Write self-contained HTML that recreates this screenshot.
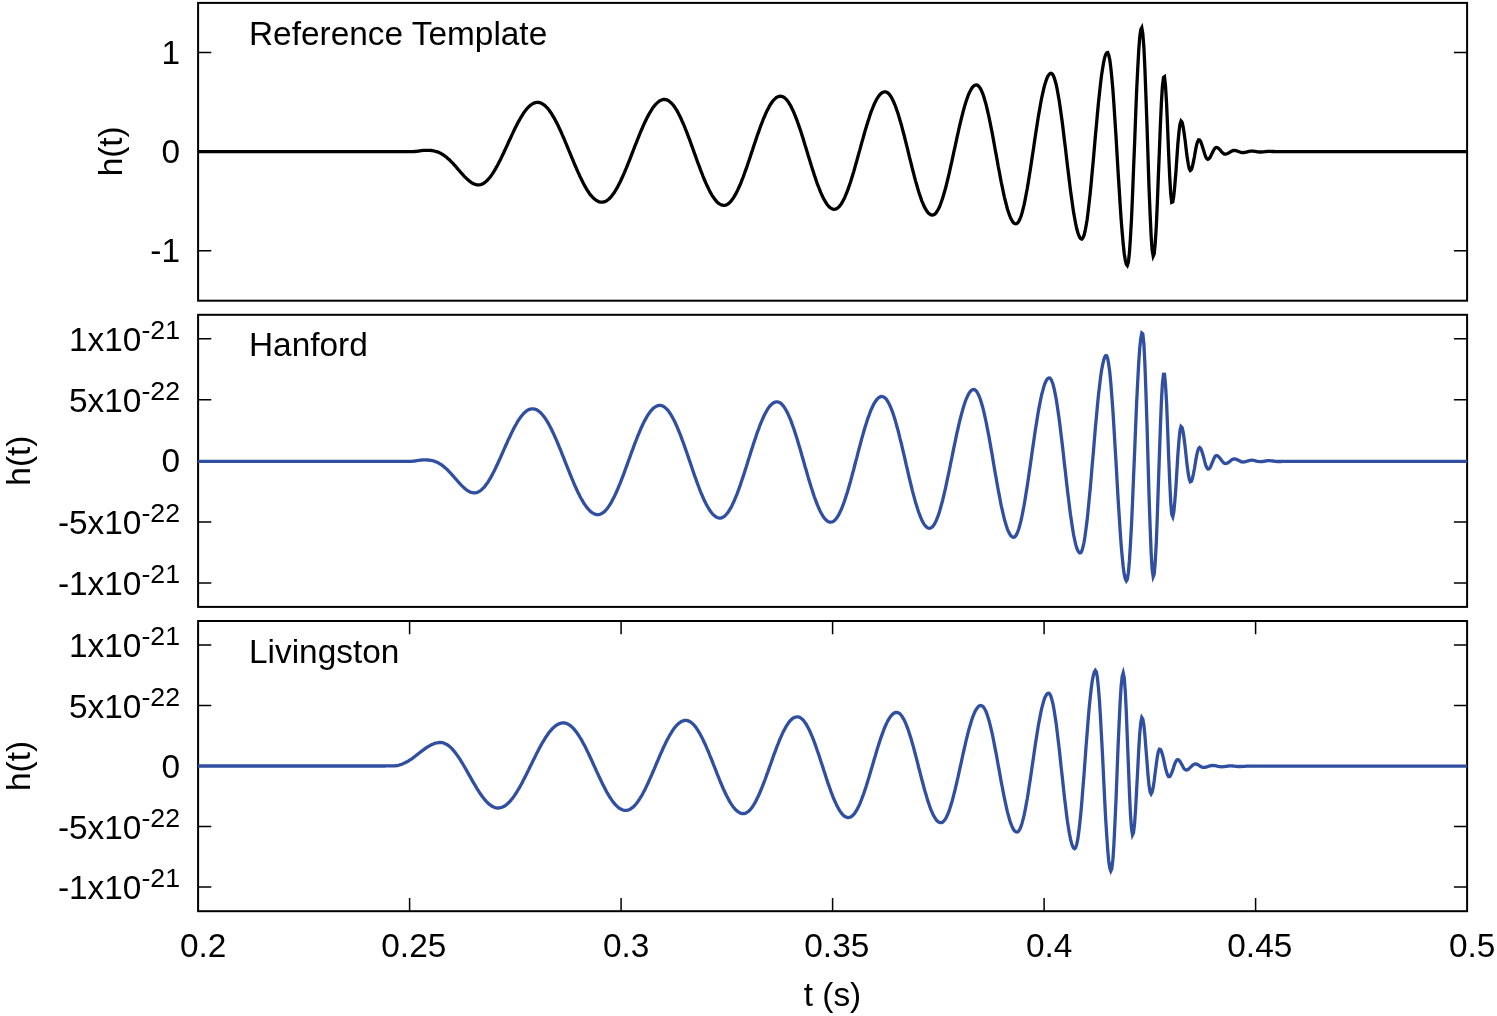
<!DOCTYPE html>
<html lang="en"><head><meta charset="utf-8"><title>h(t) waveforms</title>
<style>html,body{margin:0;padding:0;background:#fff}svg{display:block}text{font-family:"Liberation Sans",Arial,Helvetica,sans-serif;font-size:33.4px;fill:#000}</style></head><body>
<svg width="1497" height="1016" viewBox="0 0 1497 1016">
<rect width="1497" height="1016" fill="#fff"/>
<g stroke="#000" stroke-width="1.5" fill="none">
<path d="M198.1 52.5h13.2M1467.1 52.5h-13.2"/><path d="M198.1 151.6h13.2M1467.1 151.6h-13.2"/><path d="M198.1 250.7h13.2M1467.1 250.7h-13.2"/>
<path d="M198.1 338.7h13.2M1467.1 338.7h-13.2"/><path d="M198.1 399.8h13.2M1467.1 399.8h-13.2"/><path d="M198.1 460.8h13.2M1467.1 460.8h-13.2"/><path d="M198.1 521.9h13.2M1467.1 521.9h-13.2"/><path d="M198.1 582.9h13.2M1467.1 582.9h-13.2"/>
<path d="M198.1 645.1h13.2M1467.1 645.1h-13.2"/><path d="M198.1 705.5h13.2M1467.1 705.5h-13.2"/><path d="M198.1 766.0h13.2M1467.1 766.0h-13.2"/><path d="M198.1 826.5h13.2M1467.1 826.5h-13.2"/><path d="M198.1 887.0h13.2M1467.1 887.0h-13.2"/>
<path d="M409.6 911.2v-13.2M409.6 621.0v13.2"/><path d="M621.1 911.2v-13.2M621.1 621.0v13.2"/><path d="M832.6 911.2v-13.2M832.6 621.0v13.2"/><path d="M1044.1 911.2v-13.2M1044.1 621.0v13.2"/><path d="M1255.6 911.2v-13.2M1255.6 621.0v13.2"/>
</g>
<rect x="198.1" y="2.9" width="1269.0" height="297.8" fill="none" stroke="#000" stroke-width="2"/>
<rect x="198.1" y="314.8" width="1269.0" height="292.1" fill="none" stroke="#000" stroke-width="2"/>
<rect x="198.1" y="621.0" width="1269.0" height="290.2" fill="none" stroke="#000" stroke-width="2"/>
<g fill="none" stroke-width="3.3" stroke-linejoin="miter" stroke-miterlimit="10">
<polyline stroke="#000" points="198.1,151.7 411.7,151.7 412.7,151.6 413.7,151.6 414.8,151.5 415.8,151.4 416.8,151.3 417.9,151.1 418.9,151.0 419.9,150.8 421.0,150.7 422.0,150.6 423.0,150.4 424.1,150.4 425.1,150.3 426.1,150.3 427.2,150.3 428.2,150.3 429.2,150.4 430.3,150.4 431.3,150.5 432.3,150.6 433.4,150.8 434.4,151.0 435.4,151.3 436.5,151.6 437.5,151.9 438.5,152.3 439.5,152.8 440.6,153.3 441.6,153.9 442.6,154.5 443.7,155.1 444.7,155.9 445.7,156.7 446.8,157.5 447.8,158.4 448.8,159.3 449.9,160.3 450.9,161.3 451.9,162.4 453.0,163.4 454.0,164.6 455.0,165.7 456.1,166.9 457.1,168.1 458.1,169.3 459.2,170.5 460.2,171.7 461.2,172.9 462.3,174.0 463.3,175.2 464.3,176.3 465.4,177.4 466.4,178.4 467.4,179.4 468.5,180.3 469.5,181.2 470.5,181.9 471.6,182.7 472.6,183.3 473.6,183.8 474.7,184.2 475.7,184.5 476.7,184.8 477.8,184.9 478.8,184.9 479.8,184.8 480.9,184.5 481.9,184.2 482.9,183.7 484.0,183.1 485.0,182.3 486.0,181.5 487.1,180.5 488.1,179.5 489.1,178.3 490.2,177.0 491.2,175.6 492.2,174.2 493.2,172.6 494.3,170.9 495.3,169.2 496.3,167.4 497.4,165.5 498.4,163.6 499.4,161.5 500.5,159.5 501.5,157.4 502.5,155.2 503.6,153.0 504.6,150.8 505.6,148.6 506.7,146.3 507.7,144.1 508.7,141.8 509.8,139.6 510.8,137.3 511.8,135.1 512.9,132.9 513.9,130.7 514.9,128.6 516.0,126.5 517.0,124.5 518.0,122.5 519.1,120.6 520.1,118.8 521.1,117.0 522.2,115.3 523.2,113.7 524.2,112.2 525.3,110.8 526.3,109.5 527.3,108.3 528.4,107.2 529.4,106.2 530.4,105.3 531.5,104.5 532.5,103.8 533.5,103.3 534.6,102.9 535.6,102.6 536.6,102.4 537.7,102.4 538.7,102.5 539.7,102.7 540.8,103.0 541.8,103.5 542.8,104.1 543.9,104.8 544.9,105.6 545.9,106.6 547.0,107.6 548.0,108.8 549.0,110.1 550.0,111.5 551.1,113.0 552.1,114.6 553.1,116.3 554.2,118.1 555.2,119.9 556.2,121.9 557.3,123.9 558.3,126.0 559.3,128.2 560.4,130.5 561.4,132.7 562.4,135.1 563.5,137.5 564.5,139.9 565.5,142.3 566.6,144.8 567.6,147.3 568.6,149.8 569.7,152.4 570.7,154.9 571.7,157.4 572.8,159.9 573.8,162.4 574.8,164.8 575.9,167.2 576.9,169.6 577.9,171.9 579.0,174.2 580.0,176.5 581.0,178.6 582.1,180.7 583.1,182.8 584.1,184.7 585.2,186.6 586.2,188.4 587.2,190.1 588.3,191.7 589.3,193.2 590.3,194.6 591.4,195.8 592.4,197.0 593.4,198.1 594.5,199.0 595.5,199.8 596.5,200.5 597.6,201.1 598.6,201.6 599.6,201.9 600.7,202.1 601.7,202.2 602.7,202.1 603.8,202.0 604.8,201.6 605.8,201.2 606.8,200.6 607.9,199.8 608.9,199.0 609.9,198.0 611.0,196.8 612.0,195.6 613.0,194.2 614.1,192.8 615.1,191.2 616.1,189.5 617.2,187.7 618.2,185.8 619.2,183.8 620.3,181.7 621.3,179.5 622.3,177.3 623.4,174.9 624.4,172.6 625.4,170.1 626.5,167.6 627.5,165.1 628.5,162.5 629.6,159.9 630.6,157.3 631.6,154.6 632.7,152.0 633.7,149.3 634.7,146.6 635.8,144.0 636.8,141.4 637.8,138.8 638.9,136.2 639.9,133.7 640.9,131.2 642.0,128.8 643.0,126.4 644.0,124.1 645.1,121.8 646.1,119.7 647.1,117.6 648.2,115.6 649.2,113.7 650.2,112.0 651.3,110.3 652.3,108.7 653.3,107.2 654.4,105.9 655.4,104.7 656.4,103.6 657.5,102.6 658.5,101.7 659.5,101.0 660.5,100.5 661.6,100.0 662.6,99.7 663.6,99.5 664.7,99.5 665.7,99.6 666.7,99.9 667.8,100.3 668.8,100.9 669.8,101.7 670.9,102.6 671.9,103.6 672.9,104.8 674.0,106.1 675.0,107.6 676.0,109.2 677.1,110.9 678.1,112.8 679.1,114.7 680.2,116.8 681.2,119.0 682.2,121.3 683.3,123.7 684.3,126.1 685.3,128.7 686.4,131.3 687.4,133.9 688.4,136.7 689.5,139.4 690.5,142.3 691.5,145.1 692.6,148.0 693.6,150.9 694.6,153.7 695.7,156.6 696.7,159.5 697.7,162.3 698.8,165.1 699.8,167.9 700.8,170.7 701.9,173.3 702.9,176.0 703.9,178.5 705.0,181.0 706.0,183.4 707.0,185.6 708.1,187.8 709.1,189.9 710.1,191.9 711.2,193.8 712.2,195.5 713.2,197.1 714.3,198.6 715.3,199.9 716.3,201.1 717.3,202.2 718.4,203.1 719.4,203.8 720.4,204.4 721.5,204.9 722.5,205.2 723.5,205.3 724.6,205.3 725.6,205.1 726.6,204.7 727.7,204.1 728.7,203.4 729.7,202.5 730.8,201.4 731.8,200.1 732.8,198.7 733.9,197.2 734.9,195.4 735.9,193.6 737.0,191.6 738.0,189.4 739.0,187.2 740.1,184.8 741.1,182.3 742.1,179.7 743.2,177.0 744.2,174.2 745.2,171.3 746.3,168.4 747.3,165.4 748.3,162.4 749.4,159.3 750.4,156.2 751.4,153.1 752.5,150.0 753.5,146.8 754.5,143.7 755.6,140.6 756.6,137.6 757.6,134.6 758.7,131.6 759.7,128.7 760.7,125.9 761.8,123.2 762.8,120.5 763.8,118.0 764.9,115.5 765.9,113.2 766.9,111.0 768.0,108.9 769.0,107.0 770.0,105.2 771.1,103.5 772.1,102.0 773.1,100.7 774.1,99.6 775.2,98.6 776.2,97.7 777.2,97.1 778.3,96.6 779.3,96.3 780.3,96.2 781.4,96.3 782.4,96.6 783.4,97.0 784.5,97.7 785.5,98.6 786.5,99.7 787.6,101.0 788.6,102.4 789.6,104.1 790.7,105.9 791.7,107.9 792.7,110.0 793.8,112.3 794.8,114.8 795.8,117.4 796.9,120.1 797.9,123.0 798.9,125.9 800.0,129.0 801.0,132.1 802.0,135.3 803.1,138.6 804.1,141.9 805.1,145.3 806.2,148.7 807.2,152.1 808.2,155.5 809.3,158.9 810.3,162.3 811.3,165.6 812.4,168.9 813.4,172.1 814.4,175.3 815.5,178.4 816.5,181.4 817.5,184.3 818.6,187.0 819.6,189.7 820.6,192.2 821.7,194.6 822.7,196.8 823.7,198.8 824.8,200.7 825.8,202.5 826.8,204.0 827.8,205.3 828.9,206.5 829.9,207.5 830.9,208.2 832.0,208.8 833.0,209.1 834.0,209.3 835.1,209.2 836.1,208.9 837.1,208.4 838.2,207.6 839.2,206.6 840.2,205.3 841.3,203.9 842.3,202.2 843.3,200.3 844.4,198.2 845.4,195.9 846.4,193.4 847.5,190.7 848.5,187.9 849.5,184.9 850.6,181.8 851.6,178.5 852.6,175.2 853.7,171.7 854.7,168.1 855.7,164.5 856.8,160.8 857.8,157.1 858.8,153.4 859.9,149.6 860.9,145.8 861.9,142.1 863.0,138.4 864.0,134.7 865.0,131.1 866.1,127.6 867.1,124.2 868.1,120.9 869.2,117.7 870.2,114.6 871.2,111.7 872.3,109.0 873.3,106.4 874.3,104.0 875.4,101.8 876.4,99.8 877.4,98.0 878.5,96.4 879.5,95.1 880.5,94.0 881.6,93.1 882.6,92.4 883.6,92.0 884.6,91.8 885.7,91.9 886.7,92.2 887.7,92.9 888.8,93.8 889.8,95.0 890.8,96.5 891.9,98.3 892.9,100.3 893.9,102.5 895.0,105.0 896.0,107.8 897.0,110.7 898.1,113.8 899.1,117.2 900.1,120.7 901.2,124.3 902.2,128.1 903.2,132.0 904.3,136.0 905.3,140.1 906.3,144.2 907.4,148.4 908.4,152.6 909.4,156.9 910.5,161.1 911.5,165.2 912.5,169.3 913.6,173.4 914.6,177.3 915.6,181.1 916.7,184.8 917.7,188.4 918.7,191.8 919.8,195.0 920.8,198.0 921.8,200.8 922.9,203.4 923.9,205.8 924.9,207.9 926.0,209.7 927.0,211.3 928.0,212.6 929.1,213.7 930.1,214.4 931.1,214.9 932.2,215.1 933.2,215.0 934.2,214.5 935.3,213.7 936.3,212.5 937.3,211.0 938.4,209.1 939.4,207.0 940.4,204.5 941.4,201.7 942.5,198.6 943.5,195.3 944.5,191.8 945.6,188.0 946.6,184.0 947.6,179.8 948.7,175.4 949.7,171.0 950.7,166.4 951.8,161.7 952.8,156.9 953.8,152.1 954.9,147.3 955.9,142.6 956.9,137.8 958.0,133.1 959.0,128.5 960.0,124.1 961.1,119.7 962.1,115.6 963.1,111.6 964.2,107.8 965.2,104.3 966.2,101.0 967.3,98.0 968.3,95.2 969.3,92.8 970.4,90.7 971.4,88.8 972.4,87.4 973.5,86.2 974.5,85.4 975.5,85.0 976.6,84.9 977.6,85.3 978.6,86.1 979.7,87.4 980.7,89.1 981.7,91.2 982.8,93.8 983.8,96.8 984.8,100.2 985.9,103.9 986.9,108.0 987.9,112.4 989.0,117.1 990.0,122.0 991.0,127.1 992.1,132.5 993.1,137.9 994.1,143.5 995.1,149.2 996.2,154.9 997.2,160.5 998.2,166.2 999.3,171.7 1000.3,177.2 1001.3,182.5 1002.4,187.6 1003.4,192.5 1004.4,197.1 1005.5,201.5 1006.5,205.5 1007.5,209.2 1008.6,212.5 1009.6,215.4 1010.6,217.9 1011.7,220.0 1012.7,221.7 1013.7,222.9 1014.8,223.6 1015.8,223.9 1016.8,223.6 1017.9,222.7 1018.9,221.2 1019.9,219.0 1021.0,216.3 1022.0,213.0 1023.0,209.1 1024.1,204.7 1025.1,199.8 1026.1,194.5 1027.2,188.8 1028.2,182.7 1029.2,176.4 1030.3,169.8 1031.3,163.0 1032.3,156.2 1033.4,149.2 1034.4,142.3 1035.4,135.4 1036.5,128.6 1037.5,122.0 1038.5,115.6 1039.6,109.5 1040.6,103.7 1041.6,98.3 1042.7,93.3 1043.7,88.9 1044.7,84.9 1045.8,81.5 1046.8,78.6 1047.8,76.3 1048.9,74.7 1049.9,73.7 1050.9,73.3 1051.9,73.7 1053.0,75.0 1054.0,77.2 1055.0,80.3 1056.1,84.2 1057.1,89.0 1058.1,94.5 1059.2,100.7 1060.2,107.5 1061.2,114.8 1062.3,122.6 1063.3,130.8 1064.3,139.2 1065.4,147.9 1066.4,156.6 1067.4,165.4 1068.5,174.0 1069.5,182.4 1070.5,190.6 1071.6,198.3 1072.6,205.6 1073.6,212.4 1074.7,218.5 1075.7,223.9 1076.7,228.5 1077.8,232.4 1078.8,235.4 1079.8,237.5 1080.9,238.7 1081.9,239.0 1082.9,237.9 1084.0,235.5 1085.0,231.5 1086.0,226.2 1087.1,219.7 1088.1,211.9 1089.1,203.1 1090.2,193.4 1091.2,183.0 1092.2,171.9 1093.3,160.4 1094.3,148.7 1095.3,137.0 1096.4,125.3 1097.4,114.0 1098.4,103.3 1099.5,93.1 1100.5,83.9 1101.5,75.6 1102.6,68.4 1103.6,62.5 1104.6,57.8 1105.6,54.6 1106.7,52.9 1107.7,52.6 1108.7,54.9 1109.8,59.9 1110.8,67.6 1111.8,77.7 1112.9,89.9 1113.9,104.0 1114.9,119.5 1116.0,136.1 1117.0,153.3 1118.0,170.6 1119.1,187.6 1120.1,203.9 1121.1,219.0 1122.2,232.5 1123.2,244.0 1124.2,253.3 1125.3,260.1 1126.3,264.2 1127.3,265.5 1128.4,262.2 1129.4,253.0 1130.4,238.4 1131.5,219.0 1132.5,195.9 1133.5,170.3 1134.6,143.5 1135.6,116.8 1136.6,91.6 1137.7,69.3 1138.7,50.9 1139.7,37.4 1140.8,29.5 1141.8,27.7 1142.8,33.6 1143.9,47.6 1144.9,68.7 1145.9,95.3 1147.0,125.5 1148.0,156.8 1149.0,187.0 1150.1,213.9 1151.1,235.3 1152.1,249.7 1153.2,256.1 1154.2,253.9 1155.2,243.7 1156.3,226.5 1157.3,203.7 1158.3,177.5 1159.4,150.3 1160.4,124.5 1161.4,102.6 1162.4,86.4 1163.5,77.5 1164.5,76.8 1165.5,86.0 1166.6,103.8 1167.6,127.4 1168.6,153.0 1169.7,176.4 1170.7,193.8 1171.7,202.4 1172.8,201.9 1173.8,195.9 1174.8,185.6 1175.9,172.3 1176.9,157.6 1177.9,143.5 1179.0,131.8 1180.0,124.0 1181.0,121.0 1182.1,122.3 1183.1,126.5 1184.1,132.9 1185.2,140.9 1186.2,149.5 1187.2,157.6 1188.3,164.3 1189.3,168.8 1190.3,170.5 1191.4,169.5 1192.4,166.5 1193.4,161.8 1194.5,156.2 1195.5,150.4 1196.5,145.3 1197.6,141.6 1198.6,139.9 1199.6,140.1 1200.7,141.6 1201.7,144.2 1202.7,147.4 1203.8,150.9 1204.8,154.3 1205.8,157.0 1206.9,158.8 1207.9,159.3 1208.9,158.8 1210.0,157.5 1211.0,155.6 1212.0,153.4 1213.1,151.2 1214.1,149.3 1215.1,148.0 1216.2,147.4 1217.2,147.6 1218.2,148.1 1219.2,149.1 1220.3,150.2 1221.3,151.5 1222.3,152.6 1223.4,153.5 1224.4,154.1 1225.4,154.2 1226.5,154.0 1227.5,153.6 1228.5,153.1 1229.6,152.4 1230.6,151.7 1231.6,151.2 1232.7,150.7 1233.7,150.5 1234.7,150.5 1235.8,150.7 1236.8,150.9 1237.8,151.3 1238.9,151.7 1239.9,152.0 1240.9,152.3 1242.0,152.5 1243.0,152.6 1244.0,152.5 1245.1,152.4 1246.1,152.2 1247.1,151.9 1248.2,151.6 1249.2,151.4 1250.2,151.2 1251.3,151.1 1252.3,151.1 1253.3,151.2 1254.4,151.3 1255.4,151.4 1256.4,151.6 1257.5,151.8 1258.5,151.9 1259.5,152.0 1260.6,152.0 1261.6,152.0 1262.6,151.9 1263.7,151.8 1264.7,151.7 1265.7,151.6 1266.8,151.5 1267.8,151.4 1268.8,151.4 1269.9,151.4 1270.9,151.4 1271.9,151.5 1272.9,151.5 1274.0,151.5 1275.0,151.6 1276.0,151.6 1277.1,151.6 1278.1,151.7 1467.1,151.7"/>
<polyline stroke="#304FA1" points="198.1,461.4 409.6,461.4 410.6,461.3 411.7,461.3 412.7,461.2 413.7,461.1 414.8,461.0 415.8,460.8 416.8,460.7 417.9,460.5 418.9,460.3 419.9,460.2 421.0,460.1 422.0,460.0 423.0,459.9 424.1,459.9 425.1,459.9 426.1,459.9 427.2,460.0 428.2,460.0 429.2,460.1 430.3,460.3 431.3,460.4 432.3,460.7 433.4,460.9 434.4,461.2 435.4,461.6 436.5,462.0 437.5,462.5 438.5,463.0 439.5,463.6 440.6,464.2 441.6,464.9 442.6,465.7 443.7,466.5 444.7,467.4 445.7,468.3 446.8,469.2 447.8,470.2 448.8,471.3 449.9,472.4 450.9,473.5 451.9,474.6 453.0,475.8 454.0,477.0 455.0,478.2 456.1,479.3 457.1,480.5 458.1,481.7 459.2,482.9 460.2,484.0 461.2,485.1 462.3,486.1 463.3,487.1 464.3,488.1 465.4,489.0 466.4,489.8 467.4,490.5 468.5,491.1 469.5,491.7 470.5,492.2 471.6,492.5 472.6,492.7 473.6,492.9 474.7,492.9 475.7,492.8 476.7,492.5 477.8,492.2 478.8,491.7 479.8,491.0 480.9,490.3 481.9,489.4 482.9,488.4 484.0,487.3 485.0,486.1 486.0,484.8 487.1,483.3 488.1,481.8 489.1,480.1 490.2,478.4 491.2,476.6 492.2,474.7 493.2,472.8 494.3,470.7 495.3,468.6 496.3,466.5 497.4,464.3 498.4,462.0 499.4,459.8 500.5,457.5 501.5,455.1 502.5,452.8 503.6,450.4 504.6,448.1 505.6,445.8 506.7,443.5 507.7,441.2 508.7,438.9 509.8,436.7 510.8,434.5 511.8,432.4 512.9,430.3 513.9,428.3 514.9,426.3 516.0,424.5 517.0,422.7 518.0,421.0 519.1,419.4 520.1,417.9 521.1,416.5 522.2,415.2 523.2,414.0 524.2,412.9 525.3,412.0 526.3,411.1 527.3,410.4 528.4,409.8 529.4,409.4 530.4,409.1 531.5,408.9 532.5,408.8 533.5,408.9 534.6,409.1 535.6,409.4 536.6,409.8 537.7,410.4 538.7,411.1 539.7,412.0 540.8,412.9 541.8,414.0 542.8,415.2 543.9,416.5 544.9,417.9 545.9,419.4 547.0,421.1 548.0,422.8 549.0,424.6 550.0,426.6 551.1,428.6 552.1,430.7 553.1,432.8 554.2,435.1 555.2,437.4 556.2,439.7 557.3,442.1 558.3,444.6 559.3,447.1 560.4,449.7 561.4,452.2 562.4,454.8 563.5,457.4 564.5,460.1 565.5,462.7 566.6,465.3 567.6,467.9 568.6,470.5 569.7,473.1 570.7,475.7 571.7,478.2 572.8,480.7 573.8,483.1 574.8,485.5 575.9,487.8 576.9,490.0 577.9,492.2 579.0,494.3 580.0,496.4 581.0,498.3 582.1,500.1 583.1,501.9 584.1,503.6 585.2,505.1 586.2,506.6 587.2,507.9 588.3,509.1 589.3,510.2 590.3,511.2 591.4,512.1 592.4,512.8 593.4,513.4 594.5,513.9 595.5,514.3 596.5,514.5 597.6,514.6 598.6,514.6 599.6,514.4 600.7,514.0 601.7,513.5 602.7,512.9 603.8,512.1 604.8,511.2 605.8,510.2 606.8,509.0 607.9,507.6 608.9,506.2 609.9,504.6 611.0,502.9 612.0,501.0 613.0,499.1 614.1,497.1 615.1,494.9 616.1,492.7 617.2,490.3 618.2,487.9 619.2,485.4 620.3,482.9 621.3,480.2 622.3,477.6 623.4,474.8 624.4,472.1 625.4,469.3 626.5,466.4 627.5,463.6 628.5,460.7 629.6,457.9 630.6,455.0 631.6,452.2 632.7,449.4 633.7,446.6 634.7,443.8 635.8,441.1 636.8,438.5 637.8,435.9 638.9,433.4 639.9,430.9 640.9,428.5 642.0,426.2 643.0,424.0 644.0,421.9 645.1,419.9 646.1,418.1 647.1,416.3 648.2,414.6 649.2,413.1 650.2,411.7 651.3,410.4 652.3,409.3 653.3,408.3 654.4,407.5 655.4,406.8 656.4,406.2 657.5,405.8 658.5,405.5 659.5,405.4 660.5,405.4 661.6,405.6 662.6,406.0 663.6,406.5 664.7,407.2 665.7,408.1 666.7,409.1 667.8,410.2 668.8,411.5 669.8,413.0 670.9,414.6 671.9,416.3 672.9,418.2 674.0,420.2 675.0,422.3 676.0,424.5 677.1,426.8 678.1,429.3 679.1,431.8 680.2,434.4 681.2,437.1 682.2,439.9 683.3,442.7 684.3,445.6 685.3,448.5 686.4,451.5 687.4,454.5 688.4,457.5 689.5,460.6 690.5,463.6 691.5,466.6 692.6,469.7 693.6,472.7 694.6,475.6 695.7,478.5 696.7,481.4 697.7,484.2 698.8,487.0 699.8,489.7 700.8,492.3 701.9,494.8 702.9,497.2 703.9,499.5 705.0,501.7 706.0,503.8 707.0,505.7 708.1,507.5 709.1,509.2 710.1,510.8 711.2,512.2 712.2,513.5 713.2,514.6 714.3,515.6 715.3,516.4 716.3,517.0 717.3,517.5 718.4,517.8 719.4,518.0 720.4,518.0 721.5,517.8 722.5,517.4 723.5,516.8 724.6,516.1 725.6,515.1 726.6,514.0 727.7,512.7 728.7,511.3 729.7,509.7 730.8,507.9 731.8,505.9 732.8,503.8 733.9,501.6 734.9,499.2 735.9,496.7 737.0,494.1 738.0,491.4 739.0,488.6 740.1,485.7 741.1,482.6 742.1,479.6 743.2,476.4 744.2,473.2 745.2,470.0 746.3,466.7 747.3,463.4 748.3,460.1 749.4,456.8 750.4,453.5 751.4,450.2 752.5,447.0 753.5,443.8 754.5,440.7 755.6,437.6 756.6,434.5 757.6,431.6 758.7,428.8 759.7,426.0 760.7,423.4 761.8,420.9 762.8,418.5 763.8,416.3 764.9,414.1 765.9,412.2 766.9,410.4 768.0,408.7 769.0,407.2 770.0,405.9 771.1,404.8 772.1,403.8 773.1,403.1 774.1,402.5 775.2,402.1 776.2,401.8 777.2,401.8 778.3,402.0 779.3,402.4 780.3,403.0 781.4,403.8 782.4,404.9 783.4,406.1 784.5,407.6 785.5,409.2 786.5,411.1 787.6,413.1 788.6,415.3 789.6,417.7 790.7,420.2 791.7,422.9 792.7,425.8 793.8,428.7 794.8,431.8 795.8,435.0 796.9,438.3 797.9,441.7 798.9,445.1 800.0,448.6 801.0,452.2 802.0,455.8 803.1,459.4 804.1,463.0 805.1,466.7 806.2,470.3 807.2,473.9 808.2,477.4 809.3,480.9 810.3,484.3 811.3,487.6 812.4,490.8 813.4,494.0 814.4,497.0 815.5,499.9 816.5,502.6 817.5,505.2 818.6,507.7 819.6,510.0 820.6,512.1 821.7,514.0 822.7,515.7 823.7,517.3 824.8,518.6 825.8,519.7 826.8,520.7 827.8,521.4 828.9,521.9 829.9,522.1 830.9,522.2 832.0,522.0 833.0,521.6 834.0,520.9 835.1,519.9 836.1,518.8 837.1,517.4 838.2,515.7 839.2,513.8 840.2,511.7 841.3,509.4 842.3,506.9 843.3,504.2 844.4,501.3 845.4,498.3 846.4,495.1 847.5,491.8 848.5,488.3 849.5,484.7 850.6,481.0 851.6,477.2 852.6,473.4 853.7,469.5 854.7,465.5 855.7,461.5 856.8,457.6 857.8,453.6 858.8,449.6 859.9,445.7 860.9,441.9 861.9,438.1 863.0,434.4 864.0,430.8 865.0,427.3 866.1,423.9 867.1,420.7 868.1,417.6 869.2,414.8 870.2,412.0 871.2,409.5 872.3,407.2 873.3,405.1 874.3,403.2 875.4,401.5 876.4,400.1 877.4,398.9 878.5,397.9 879.5,397.2 880.5,396.7 881.6,396.5 882.6,396.6 883.6,396.9 884.6,397.6 885.7,398.5 886.7,399.8 887.7,401.3 888.8,403.2 889.8,405.3 890.8,407.7 891.9,410.3 892.9,413.1 893.9,416.2 895.0,419.6 896.0,423.1 897.0,426.8 898.1,430.6 899.1,434.6 900.1,438.8 901.2,443.0 902.2,447.3 903.2,451.7 904.3,456.2 905.3,460.7 906.3,465.2 907.4,469.6 908.4,474.1 909.4,478.5 910.5,482.8 911.5,487.0 912.5,491.1 913.6,495.1 914.6,498.9 915.6,502.6 916.7,506.0 917.7,509.3 918.7,512.3 919.8,515.1 920.8,517.7 921.8,520.0 922.9,522.1 923.9,523.8 924.9,525.3 926.0,526.5 927.0,527.4 928.0,528.0 929.1,528.3 930.1,528.2 931.1,527.8 932.2,527.1 933.2,525.9 934.2,524.4 935.3,522.6 936.3,520.4 937.3,517.9 938.4,515.0 939.4,511.9 940.4,508.4 941.4,504.7 942.5,500.8 943.5,496.6 944.5,492.3 945.6,487.7 946.6,483.0 947.6,478.2 948.7,473.2 949.7,468.2 950.7,463.1 951.8,458.0 952.8,452.9 953.8,447.9 954.9,442.9 955.9,438.0 956.9,433.2 958.0,428.5 959.0,424.0 960.0,419.7 961.1,415.6 962.1,411.8 963.1,408.2 964.2,404.8 965.2,401.8 966.2,399.0 967.3,396.6 968.3,394.6 969.3,392.8 970.4,391.4 971.4,390.4 972.4,389.8 973.5,389.5 974.5,389.6 975.5,390.3 976.6,391.4 977.6,393.0 978.6,395.0 979.7,397.5 980.7,400.5 981.7,403.8 982.8,407.6 983.8,411.7 984.8,416.2 985.9,421.0 986.9,426.1 987.9,431.4 989.0,436.9 990.0,442.6 991.0,448.4 992.1,454.4 993.1,460.4 994.1,466.4 995.1,472.4 996.2,478.4 997.2,484.2 998.2,489.9 999.3,495.4 1000.3,500.8 1001.3,505.8 1002.4,510.6 1003.4,515.1 1004.4,519.2 1005.5,523.0 1006.5,526.3 1007.5,529.3 1008.6,531.8 1009.6,533.8 1010.6,535.4 1011.7,536.5 1012.7,537.2 1013.7,537.3 1014.8,536.8 1015.8,535.7 1016.8,533.9 1017.9,531.5 1018.9,528.5 1019.9,524.9 1021.0,520.7 1022.0,516.0 1023.0,510.9 1024.1,505.3 1025.1,499.3 1026.1,492.9 1027.2,486.3 1028.2,479.4 1029.2,472.4 1030.3,465.2 1031.3,458.0 1032.3,450.8 1033.4,443.6 1034.4,436.5 1035.4,429.6 1036.5,423.0 1037.5,416.6 1038.5,410.6 1039.6,404.9 1040.6,399.7 1041.6,395.0 1042.7,390.8 1043.7,387.1 1044.7,384.0 1045.8,381.5 1046.8,379.7 1047.8,378.5 1048.9,377.9 1049.9,378.1 1050.9,379.2 1051.9,381.3 1053.0,384.3 1054.0,388.2 1055.0,392.9 1056.1,398.5 1057.1,404.7 1058.1,411.7 1059.2,419.2 1060.2,427.3 1061.2,435.7 1062.3,444.5 1063.3,453.5 1064.3,462.7 1065.4,471.9 1066.4,481.0 1067.4,489.9 1068.5,498.6 1069.5,506.9 1070.5,514.8 1071.6,522.1 1072.6,528.8 1073.6,534.8 1074.7,540.0 1075.7,544.4 1076.7,547.9 1077.8,550.5 1078.8,552.2 1079.8,553.0 1080.9,552.6 1081.9,550.7 1082.9,547.3 1084.0,542.5 1085.0,536.3 1086.0,528.9 1087.1,520.3 1088.1,510.7 1089.1,500.2 1090.2,489.0 1091.2,477.3 1092.2,465.2 1093.3,453.0 1094.3,440.7 1095.3,428.7 1096.4,417.1 1097.4,406.0 1098.4,395.7 1099.5,386.3 1100.5,377.9 1101.5,370.8 1102.6,364.9 1103.6,360.4 1104.6,357.3 1105.6,355.7 1106.7,355.8 1107.7,358.6 1108.7,364.2 1109.8,372.4 1110.8,383.0 1111.8,395.9 1112.9,410.6 1113.9,426.7 1114.9,443.9 1116.0,461.7 1117.0,479.7 1118.0,497.4 1119.1,514.4 1120.1,530.2 1121.1,544.4 1122.2,556.7 1123.2,566.7 1124.2,574.2 1125.3,579.0 1126.3,580.9 1127.3,579.3 1128.4,572.5 1129.4,560.9 1130.4,544.9 1131.5,525.2 1132.5,502.6 1133.5,478.1 1134.6,452.7 1135.6,427.4 1136.6,403.4 1137.7,381.7 1138.7,363.0 1139.7,348.4 1140.8,338.3 1141.8,333.1 1142.8,333.9 1143.9,344.2 1144.9,364.0 1145.9,391.4 1147.0,424.2 1148.0,459.6 1149.0,494.6 1150.1,526.2 1151.1,551.8 1152.1,569.1 1153.2,576.7 1154.2,574.2 1155.2,562.5 1156.3,542.7 1157.3,516.5 1158.3,486.5 1159.4,455.4 1160.4,426.2 1161.4,401.5 1162.4,383.6 1163.5,374.2 1164.5,374.3 1165.5,384.5 1166.6,403.3 1167.6,428.2 1168.6,455.5 1169.7,481.3 1170.7,501.8 1171.7,514.2 1172.8,516.8 1173.8,512.0 1174.8,501.7 1175.9,487.3 1176.9,470.7 1177.9,454.3 1179.0,440.2 1180.0,430.5 1181.0,426.4 1182.1,427.5 1183.1,431.7 1184.1,438.6 1185.2,447.4 1186.2,456.9 1187.2,466.1 1188.3,473.9 1189.3,479.3 1190.3,481.8 1191.4,481.3 1192.4,478.6 1193.4,474.0 1194.5,468.2 1195.5,462.0 1196.5,456.1 1197.6,451.4 1198.6,448.4 1199.6,447.5 1200.7,448.4 1201.7,450.7 1202.7,454.0 1203.8,457.9 1204.8,461.9 1205.8,465.4 1206.9,467.9 1207.9,469.0 1208.9,468.9 1210.0,467.7 1211.0,465.7 1212.0,463.2 1213.1,460.6 1214.1,458.2 1215.1,456.5 1216.2,455.7 1217.2,455.7 1218.2,456.3 1219.2,457.3 1220.3,458.6 1221.3,460.0 1222.3,461.3 1223.4,462.5 1224.4,463.3 1225.4,463.6 1226.5,463.5 1227.5,463.1 1228.5,462.4 1229.6,461.6 1230.6,460.7 1231.6,459.9 1232.7,459.3 1233.7,459.0 1234.7,458.9 1235.8,459.1 1236.8,459.5 1237.8,460.0 1238.9,460.6 1239.9,461.1 1240.9,461.6 1242.0,461.9 1243.0,462.0 1244.0,461.9 1245.1,461.8 1246.1,461.5 1247.1,461.2 1248.2,460.8 1249.2,460.5 1250.2,460.3 1251.3,460.2 1252.3,460.2 1253.3,460.3 1254.4,460.5 1255.4,460.8 1256.4,461.1 1257.5,461.3 1258.5,461.5 1259.5,461.7 1260.6,461.7 1261.6,461.7 1262.6,461.5 1263.7,461.4 1264.7,461.2 1265.7,461.0 1266.8,460.9 1267.8,460.7 1268.8,460.7 1269.9,460.7 1270.9,460.8 1271.9,460.9 1272.9,461.0 1274.0,461.1 1275.0,461.3 1276.0,461.4 1277.1,461.5 1278.1,461.5 1279.1,461.5 1280.2,461.5 1281.2,461.5 1282.2,461.4 1283.3,461.4 1284.3,461.4 1285.3,461.4 1286.4,461.4 1287.4,461.4 1288.4,461.4 1467.1,461.4"/>
<polyline stroke="#304FA1" points="198.1,766.0 377.6,766.0 378.6,766.0 379.7,766.0 380.7,766.0 381.7,766.0 382.7,766.0 383.8,766.0 384.8,766.0 385.8,765.9 386.9,765.9 387.9,765.9 388.9,765.9 390.0,765.9 391.0,765.9 392.0,765.9 393.1,765.9 394.1,765.8 395.1,765.8 396.2,765.6 397.2,765.5 398.2,765.3 399.3,765.0 400.3,764.7 401.3,764.4 402.4,764.0 403.4,763.6 404.4,763.1 405.5,762.6 406.5,762.1 407.5,761.5 408.6,760.9 409.6,760.2 410.6,759.5 411.7,758.8 412.7,758.1 413.7,757.3 414.8,756.5 415.8,755.7 416.8,754.9 417.9,754.1 418.9,753.3 419.9,752.5 421.0,751.7 422.0,750.9 423.0,750.1 424.1,749.4 425.1,748.6 426.1,747.9 427.2,747.2 428.2,746.6 429.2,746.0 430.3,745.4 431.3,744.8 432.3,744.4 433.4,743.9 434.4,743.5 435.4,743.2 436.5,743.0 437.5,742.8 438.5,742.6 439.5,742.5 440.6,742.5 441.6,742.6 442.6,742.7 443.7,743.0 444.7,743.4 445.7,743.9 446.8,744.4 447.8,745.1 448.8,745.9 449.9,746.7 450.9,747.7 451.9,748.7 453.0,749.9 454.0,751.1 455.0,752.3 456.1,753.7 457.1,755.1 458.1,756.6 459.2,758.1 460.2,759.7 461.2,761.4 462.3,763.0 463.3,764.8 464.3,766.5 465.4,768.3 466.4,770.1 467.4,771.9 468.5,773.8 469.5,775.6 470.5,777.4 471.6,779.3 472.6,781.1 473.6,782.9 474.7,784.7 475.7,786.4 476.7,788.1 477.8,789.8 478.8,791.4 479.8,793.0 480.9,794.5 481.9,796.0 482.9,797.3 484.0,798.7 485.0,799.9 486.0,801.1 487.1,802.2 488.1,803.2 489.1,804.1 490.2,804.9 491.2,805.6 492.2,806.3 493.2,806.8 494.3,807.3 495.3,807.6 496.3,807.8 497.4,808.0 498.4,808.0 499.4,807.9 500.5,807.7 501.5,807.5 502.5,807.1 503.6,806.6 504.6,806.0 505.6,805.3 506.7,804.5 507.7,803.6 508.7,802.6 509.8,801.5 510.8,800.4 511.8,799.1 512.9,797.8 513.9,796.4 514.9,794.9 516.0,793.3 517.0,791.7 518.0,790.0 519.1,788.2 520.1,786.4 521.1,784.5 522.2,782.6 523.2,780.6 524.2,778.6 525.3,776.6 526.3,774.5 527.3,772.4 528.4,770.3 529.4,768.2 530.4,766.1 531.5,764.0 532.5,761.9 533.5,759.8 534.6,757.7 535.6,755.6 536.6,753.5 537.7,751.5 538.7,749.5 539.7,747.6 540.8,745.7 541.8,743.8 542.8,742.0 543.9,740.3 544.9,738.6 545.9,737.0 547.0,735.5 548.0,734.0 549.0,732.6 550.0,731.3 551.1,730.1 552.1,728.9 553.1,727.9 554.2,727.0 555.2,726.1 556.2,725.3 557.3,724.7 558.3,724.1 559.3,723.7 560.4,723.3 561.4,723.1 562.4,722.9 563.5,722.9 564.5,723.0 565.5,723.2 566.6,723.5 567.6,723.9 568.6,724.5 569.7,725.1 570.7,725.9 571.7,726.8 572.8,727.8 573.8,728.9 574.8,730.1 575.9,731.4 576.9,732.8 577.9,734.2 579.0,735.8 580.0,737.5 581.0,739.2 582.1,741.0 583.1,742.9 584.1,744.8 585.2,746.8 586.2,748.9 587.2,751.0 588.3,753.1 589.3,755.3 590.3,757.5 591.4,759.8 592.4,762.0 593.4,764.3 594.5,766.6 595.5,768.8 596.5,771.1 597.6,773.4 598.6,775.6 599.6,777.8 600.7,780.0 601.7,782.1 602.7,784.2 603.8,786.3 604.8,788.3 605.8,790.2 606.8,792.1 607.9,793.9 608.9,795.7 609.9,797.3 611.0,798.9 612.0,800.4 613.0,801.8 614.1,803.1 615.1,804.3 616.1,805.4 617.2,806.4 618.2,807.3 619.2,808.1 620.3,808.8 621.3,809.3 622.3,809.8 623.4,810.1 624.4,810.3 625.4,810.4 626.5,810.4 627.5,810.2 628.5,809.9 629.6,809.5 630.6,808.9 631.6,808.2 632.7,807.4 633.7,806.5 634.7,805.5 635.8,804.3 636.8,803.0 637.8,801.6 638.9,800.1 639.9,798.5 640.9,796.8 642.0,795.1 643.0,793.2 644.0,791.2 645.1,789.2 646.1,787.1 647.1,784.9 648.2,782.7 649.2,780.4 650.2,778.1 651.3,775.8 652.3,773.4 653.3,771.0 654.4,768.6 655.4,766.1 656.4,763.7 657.5,761.3 658.5,758.9 659.5,756.5 660.5,754.1 661.6,751.8 662.6,749.5 663.6,747.2 664.7,745.0 665.7,742.9 666.7,740.8 667.8,738.8 668.8,736.9 669.8,735.0 670.9,733.3 671.9,731.6 672.9,730.1 674.0,728.6 675.0,727.3 676.0,726.0 677.1,724.9 678.1,723.9 679.1,723.0 680.2,722.3 681.2,721.6 682.2,721.1 683.3,720.8 684.3,720.5 685.3,720.4 686.4,720.4 687.4,720.6 688.4,720.9 689.5,721.4 690.5,722.0 691.5,722.7 692.6,723.6 693.6,724.7 694.6,725.8 695.7,727.1 696.7,728.6 697.7,730.1 698.8,731.8 699.8,733.5 700.8,735.4 701.9,737.4 702.9,739.5 703.9,741.7 705.0,743.9 706.0,746.2 707.0,748.6 708.1,751.0 709.1,753.5 710.1,756.1 711.2,758.7 712.2,761.2 713.2,763.9 714.3,766.5 715.3,769.1 716.3,771.7 717.3,774.4 718.4,776.9 719.4,779.5 720.4,782.0 721.5,784.5 722.5,786.9 723.5,789.2 724.6,791.5 725.6,793.7 726.6,795.8 727.7,797.8 728.7,799.7 729.7,801.6 730.8,803.3 731.8,804.9 732.8,806.3 733.9,807.7 734.9,808.9 735.9,810.0 737.0,810.9 738.0,811.7 739.0,812.4 740.1,812.9 741.1,813.3 742.1,813.5 743.2,813.6 744.2,813.5 745.2,813.3 746.3,812.8 747.3,812.2 748.3,811.5 749.4,810.5 750.4,809.4 751.4,808.2 752.5,806.7 753.5,805.2 754.5,803.5 755.6,801.6 756.6,799.6 757.6,797.5 758.7,795.3 759.7,793.0 760.7,790.6 761.8,788.0 762.8,785.4 763.8,782.8 764.9,780.0 765.9,777.2 766.9,774.4 768.0,771.5 769.0,768.6 770.0,765.7 771.1,762.8 772.1,759.9 773.1,757.0 774.1,754.2 775.2,751.4 776.2,748.6 777.2,745.9 778.3,743.3 779.3,740.7 780.3,738.3 781.4,735.9 782.4,733.6 783.4,731.5 784.5,729.5 785.5,727.6 786.5,725.8 787.6,724.2 788.6,722.7 789.6,721.4 790.7,720.2 791.7,719.3 792.7,718.4 793.8,717.8 794.8,717.3 795.8,717.0 796.9,716.8 797.9,716.8 798.9,717.1 800.0,717.5 801.0,718.2 802.0,719.0 803.1,720.0 804.1,721.2 805.1,722.6 806.2,724.2 807.2,726.0 808.2,727.9 809.3,730.0 810.3,732.2 811.3,734.6 812.4,737.1 813.4,739.7 814.4,742.4 815.5,745.3 816.5,748.2 817.5,751.2 818.6,754.2 819.6,757.3 820.6,760.5 821.7,763.7 822.7,766.8 823.7,770.0 824.8,773.2 825.8,776.4 826.8,779.5 827.8,782.6 828.9,785.6 829.9,788.5 830.9,791.4 832.0,794.1 833.0,796.8 834.0,799.3 835.1,801.7 836.1,803.9 837.1,806.0 838.2,808.0 839.2,809.8 840.2,811.4 841.3,812.9 842.3,814.1 843.3,815.2 844.4,816.1 845.4,816.8 846.4,817.2 847.5,817.5 848.5,817.6 849.5,817.5 850.6,817.1 851.6,816.5 852.6,815.6 853.7,814.5 854.7,813.2 855.7,811.7 856.8,810.0 857.8,808.1 858.8,806.0 859.9,803.6 860.9,801.2 861.9,798.5 863.0,795.7 864.0,792.8 865.0,789.7 866.1,786.6 867.1,783.3 868.1,779.9 869.2,776.5 870.2,773.0 871.2,769.5 872.3,766.0 873.3,762.5 874.3,759.0 875.4,755.5 876.4,752.0 877.4,748.6 878.5,745.3 879.5,742.1 880.5,738.9 881.6,735.9 882.6,733.1 883.6,730.3 884.6,727.7 885.7,725.3 886.7,723.1 887.7,721.1 888.8,719.2 889.8,717.6 890.8,716.2 891.9,715.0 892.9,714.0 893.9,713.2 895.0,712.7 896.0,712.5 897.0,712.4 898.1,712.7 899.1,713.2 900.1,714.0 901.2,715.2 902.2,716.6 903.2,718.3 904.3,720.2 905.3,722.4 906.3,724.9 907.4,727.6 908.4,730.5 909.4,733.6 910.5,736.9 911.5,740.3 912.5,743.9 913.6,747.6 914.6,751.5 915.6,755.4 916.7,759.4 917.7,763.4 918.7,767.5 919.8,771.5 920.8,775.6 921.8,779.5 922.9,783.5 923.9,787.3 924.9,791.0 926.0,794.6 927.0,798.1 928.0,801.4 929.1,804.5 930.1,807.4 931.1,810.1 932.2,812.6 933.2,814.8 934.2,816.7 935.3,818.4 936.3,819.9 937.3,821.0 938.4,821.9 939.4,822.4 940.4,822.7 941.4,822.6 942.5,822.2 943.5,821.4 944.5,820.2 945.6,818.6 946.6,816.7 947.6,814.5 948.7,811.9 949.7,809.0 950.7,805.8 951.8,802.3 952.8,798.6 953.8,794.7 954.9,790.5 955.9,786.2 956.9,781.8 958.0,777.2 959.0,772.5 960.0,767.8 961.1,763.1 962.1,758.4 963.1,753.7 964.2,749.0 965.2,744.5 966.2,740.1 967.3,735.9 968.3,731.8 969.3,728.0 970.4,724.4 971.4,721.0 972.4,717.9 973.5,715.2 974.5,712.7 975.5,710.6 976.6,708.9 977.6,707.5 978.6,706.4 979.7,705.8 980.7,705.5 981.7,705.7 982.8,706.3 983.8,707.5 984.8,709.2 985.9,711.3 986.9,713.9 987.9,717.0 989.0,720.5 990.0,724.4 991.0,728.6 992.1,733.2 993.1,738.0 994.1,743.1 995.1,748.4 996.2,753.9 997.2,759.5 998.2,765.2 999.3,770.9 1000.3,776.6 1001.3,782.2 1002.4,787.7 1003.4,793.1 1004.4,798.2 1005.5,803.2 1006.5,807.8 1007.5,812.1 1008.6,816.1 1009.6,819.7 1010.6,822.9 1011.7,825.6 1012.7,827.9 1013.7,829.7 1014.8,831.0 1015.8,831.8 1016.8,832.1 1017.9,831.8 1018.9,830.7 1019.9,829.0 1021.0,826.5 1022.0,823.4 1023.0,819.6 1024.1,815.2 1025.1,810.3 1026.1,804.9 1027.2,799.0 1028.2,792.7 1029.2,786.1 1030.3,779.3 1031.3,772.3 1032.3,765.2 1033.4,758.1 1034.4,751.0 1035.4,744.1 1036.5,737.3 1037.5,730.8 1038.5,724.7 1039.6,718.9 1040.6,713.6 1041.6,708.8 1042.7,704.6 1043.7,701.0 1044.7,698.0 1045.8,695.8 1046.8,694.2 1047.8,693.4 1048.9,693.3 1049.9,694.3 1050.9,696.4 1051.9,699.7 1053.0,704.2 1054.0,709.6 1055.0,715.9 1056.1,723.1 1057.1,731.1 1058.1,739.6 1059.2,748.6 1060.2,758.0 1061.2,767.6 1062.3,777.2 1063.3,786.7 1064.3,796.0 1065.4,804.9 1066.4,813.2 1067.4,821.0 1068.5,827.9 1069.5,834.0 1070.5,839.1 1071.6,843.2 1072.6,846.2 1073.6,848.0 1074.7,848.6 1075.7,847.6 1076.7,844.4 1077.8,839.2 1078.8,832.1 1079.8,823.2 1080.9,812.7 1081.9,801.0 1082.9,788.2 1084.0,774.8 1085.0,761.0 1086.0,747.1 1087.1,733.6 1088.1,720.6 1089.1,708.7 1090.2,697.9 1091.2,688.7 1092.2,681.2 1093.3,675.6 1094.3,672.0 1095.3,670.5 1096.4,672.0 1097.4,677.8 1098.4,687.6 1099.5,701.0 1100.5,717.5 1101.5,736.3 1102.6,756.6 1103.6,777.5 1104.6,798.2 1105.6,817.6 1106.7,835.0 1107.7,849.6 1108.7,860.7 1109.8,868.0 1110.8,870.9 1111.8,868.7 1112.9,859.6 1113.9,844.5 1114.9,824.2 1116.0,800.2 1117.0,774.3 1118.0,748.2 1119.1,723.8 1120.1,702.8 1121.1,686.6 1122.2,676.4 1123.2,673.0 1124.2,677.7 1125.3,691.3 1126.3,712.1 1127.3,737.7 1128.4,765.2 1129.4,791.4 1130.4,813.3 1131.5,828.4 1132.5,834.8 1133.5,832.7 1134.6,823.7 1135.6,809.0 1136.6,790.4 1137.7,770.0 1138.7,750.4 1139.7,734.0 1140.8,722.6 1141.8,717.6 1142.8,719.1 1143.9,725.3 1144.9,735.4 1145.9,748.1 1147.0,761.8 1148.0,774.8 1149.0,785.3 1150.1,791.9 1151.1,794.0 1152.1,792.2 1153.2,787.5 1154.2,780.7 1155.2,772.6 1156.3,764.3 1157.3,757.0 1158.3,751.7 1159.4,749.2 1160.4,749.4 1161.4,751.2 1162.4,754.4 1163.5,758.7 1164.5,763.4 1165.5,768.0 1166.6,772.1 1167.6,775.0 1168.6,776.5 1169.7,776.5 1170.7,775.2 1171.7,772.9 1172.8,769.9 1173.8,766.7 1174.8,763.7 1175.9,761.3 1176.9,759.9 1177.9,759.6 1179.0,760.2 1180.0,761.5 1181.0,763.2 1182.1,765.1 1183.1,767.0 1184.1,768.6 1185.2,769.6 1186.2,770.0 1187.2,769.8 1188.3,769.3 1189.3,768.4 1190.3,767.4 1191.4,766.3 1192.4,765.3 1193.4,764.6 1194.5,764.1 1195.5,764.0 1196.5,764.2 1197.6,764.6 1198.6,765.2 1199.6,765.8 1200.7,766.5 1201.7,767.0 1202.7,767.3 1203.8,767.4 1204.8,767.3 1205.8,767.1 1206.9,766.9 1207.9,766.5 1208.9,766.2 1210.0,765.9 1211.0,765.7 1212.0,765.5 1213.1,765.5 1214.1,765.6 1215.1,765.7 1216.2,765.9 1217.2,766.2 1218.2,766.4 1219.2,766.6 1220.3,766.7 1221.3,766.8 1222.3,766.8 1223.4,766.7 1224.4,766.6 1225.4,766.4 1226.5,766.3 1227.5,766.1 1228.5,766.0 1229.6,765.9 1230.6,765.9 1231.6,765.9 1232.7,766.0 1233.7,766.1 1234.7,766.2 1235.8,766.3 1236.8,766.4 1237.8,766.5 1238.9,766.5 1239.9,766.5 1240.9,766.5 1242.0,766.4 1243.0,766.4 1244.0,766.3 1245.1,766.3 1246.1,766.2 1247.1,766.2 1248.2,766.2 1467.1,766.2"/>
</g>
<text x="249" y="45">Reference Template</text>
<text x="249" y="356">Hanford</text>
<text x="249" y="663">Livingston</text>
<text x="180" y="64.0" text-anchor="end">1</text>
<text x="180" y="163.1" text-anchor="end">0</text>
<text x="180" y="262.2" text-anchor="end">-1</text>
<text x="180.0" y="351.0" text-anchor="end">1x10<tspan dy="-12" font-size="26.7">-21</tspan></text>
<text x="180.0" y="412.1" text-anchor="end">5x10<tspan dy="-12" font-size="26.7">-22</tspan></text>
<text x="180" y="472.3" text-anchor="end">0</text>
<text x="180.0" y="534.1" text-anchor="end">-5x10<tspan dy="-12" font-size="26.7">-22</tspan></text>
<text x="180.0" y="595.2" text-anchor="end">-1x10<tspan dy="-12" font-size="26.7">-21</tspan></text>
<text x="180.0" y="657.4" text-anchor="end">1x10<tspan dy="-12" font-size="26.7">-21</tspan></text>
<text x="180.0" y="717.8" text-anchor="end">5x10<tspan dy="-12" font-size="26.7">-22</tspan></text>
<text x="180" y="777.5" text-anchor="end">0</text>
<text x="180.0" y="838.8" text-anchor="end">-5x10<tspan dy="-12" font-size="26.7">-22</tspan></text>
<text x="180.0" y="899.3" text-anchor="end">-1x10<tspan dy="-12" font-size="26.7">-21</tspan></text>
<text x="203.1" y="956.5" text-anchor="middle">0.2</text>
<text x="413.8" y="956.5" text-anchor="middle">0.25</text>
<text x="626.1" y="956.5" text-anchor="middle">0.3</text>
<text x="836.8" y="956.5" text-anchor="middle">0.35</text>
<text x="1049.1" y="956.5" text-anchor="middle">0.4</text>
<text x="1259.8" y="956.5" text-anchor="middle">0.45</text>
<text x="1472.1" y="956.5" text-anchor="middle">0.5</text>
<text x="832.5" y="1005.5" text-anchor="middle">t (s)</text>
<text transform="translate(122.3 151.3) rotate(-90)" text-anchor="middle">h(t)</text>
<text transform="translate(30.2 460.6) rotate(-90)" text-anchor="middle">h(t)</text>
<text transform="translate(30.2 766.0) rotate(-90)" text-anchor="middle">h(t)</text>
</svg></body></html>
